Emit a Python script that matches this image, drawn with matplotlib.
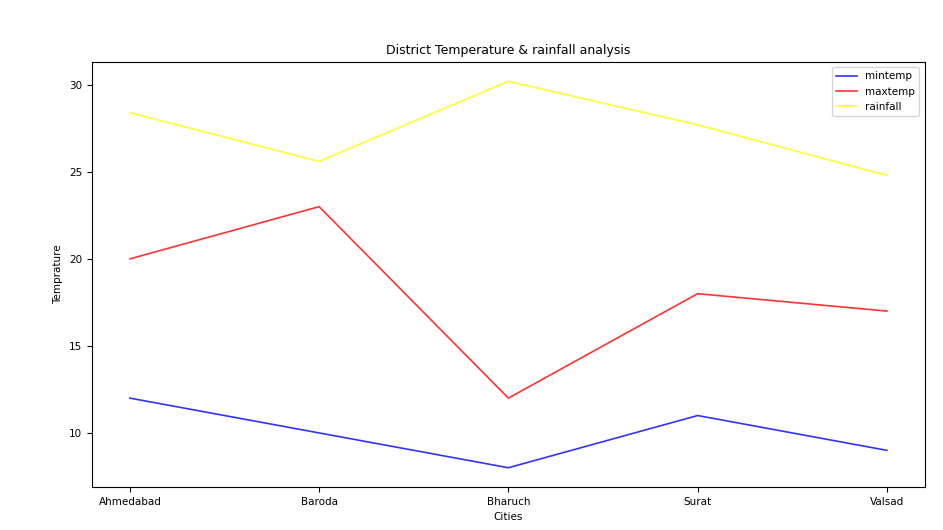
import matplotlib
matplotlib.use("Agg")
import matplotlib.pyplot as plt

cities = ["Ahmedabad", "Baroda", "Bharuch", "Surat", "Valsad"]
mintemp = [12, 10, 8, 11, 9]
maxtemp = [20, 23, 12, 18, 17]
rainfall = [28.4, 25.6, 30.2, 27.7, 24.8]

plt.rcParams["font.size"] = 7.5

fig = plt.figure(figsize=(9.43, 5.3), dpi=100)
ax = fig.add_axes([0.0976, 0.081, 0.883, 0.802])
ax.plot(cities, mintemp, color="blue", alpha=0.8, lw=1.2, label="mintemp")
ax.plot(cities, maxtemp, color="red", alpha=0.8, lw=1.2, label="maxtemp")
ax.plot(cities, rainfall, color="yellow", alpha=0.8, lw=1.2, label="rainfall")
ax.set_title("District Temperature & rainfall analysis", fontsize=9)
ax.set_xlabel("Cities")
ax.set_ylabel("Temprature")
ax.legend(loc="upper right")
fig.savefig("out.png")
plt.close(fig)
